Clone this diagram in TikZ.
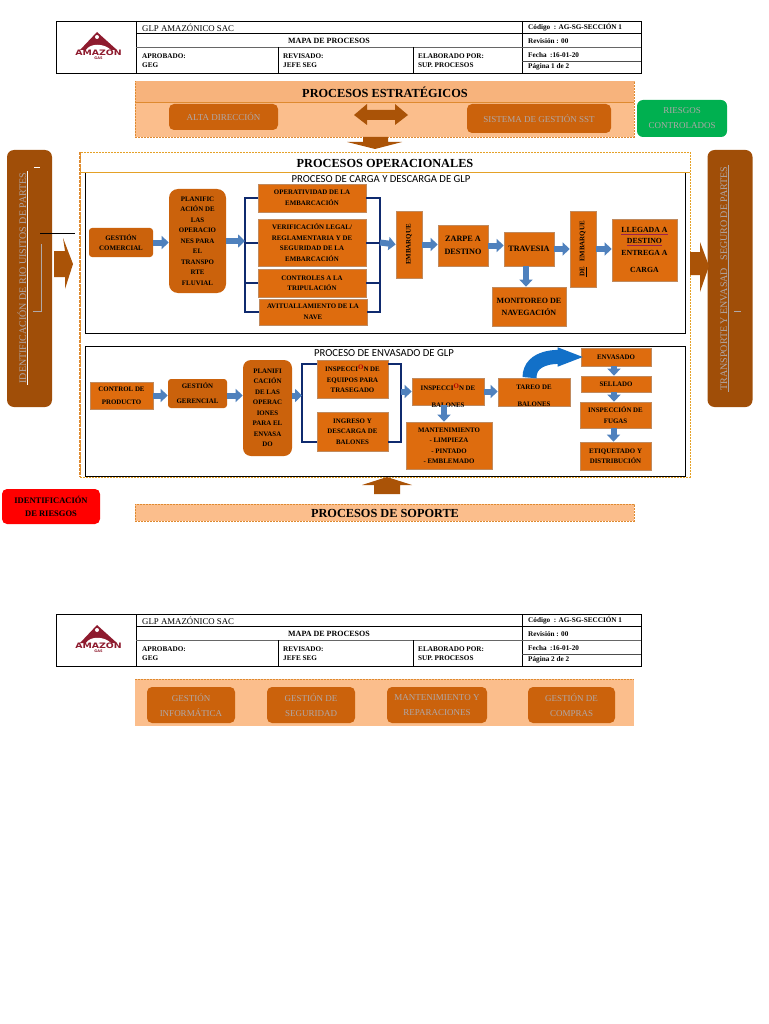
\documentclass[tikz,border=0pt]{standalone}
\usepackage{fontspec}
\setmainfont{Liberation Serif}
\newfontfamily\calfont{Carlito}
\newfontfamily\logofont{DejaVu Sans}
\usetikzlibrary{positioning, arrows.meta}

\definecolor{boxorange}{HTML}{DE6C0E}
\definecolor{roundorange}{HTML}{CB620C}
\definecolor{boxedge}{HTML}{C08A5E}
\definecolor{barbrown}{HTML}{A04E08}
\definecolor{panelband}{HTML}{F7B37C}
\definecolor{panelfill}{HTML}{FBBE8C}
\definecolor{paneledge}{HTML}{DE8A30}
\definecolor{flowblue}{HTML}{4F81BD}
\definecolor{curveblue}{HTML}{1270C8}
\definecolor{navybar}{HTML}{0F2A6E}
\definecolor{paletext}{HTML}{B0A8A8}
\definecolor{logored}{HTML}{8E1B2E}
\definecolor{squigred}{HTML}{9A2050}

\newcommand{\redO}{\raisebox{2pt}{\color{red!70!black}O}}
\newcommand{\squig}[1]{{\color{squigred}$\underline{\hbox{\color{black}#1}}$}}

\begin{document}
\begin{tikzpicture}[
    x=1pt, y=-1pt,
    %% Boxes with the process names
    procbox/.style={
        rectangle,
        draw=boxedge,
        line width=0.7pt,
        fill=boxorange,
        align=center,
        inner sep=0pt,
        font=\fontsize{6.9}{10.5}\selectfont\bfseries
    },
    roundbox/.style={
        procbox,
        draw=none,
        fill=roundorange,
        rounded corners=7pt
    },
    palebox/.style={
        rectangle,
        rounded corners=5pt,
        fill=roundorange,
        text=paletext,
        align=center,
        inner sep=0pt,
        font=\fontsize{9}{15}\selectfont
    },
    sidebar/.style={
        rectangle,
        rounded corners=7pt,
        fill=barbrown,
        rotate=90,
        minimum width=257pt,
        minimum height=45pt
    },
    sidetext/.style={
        rotate=90,
        text=paletext,
        inner sep=1pt,
        font=\fontsize{10}{12}\selectfont
    },
    panel/.style={
        rectangle,
        draw=paneledge,
        dashed,
        dash pattern=on 2pt off 1pt,
        line width=0.8pt,
        fill=panelfill,
        inner sep=0pt
    },
    frame/.style={
        rectangle,
        draw=black,
        line width=0.8pt,
        fill=white,
        inner sep=0pt
    },
    title/.style={
        inner sep=0pt,
        font=\fontsize{12.3}{14}\selectfont\bfseries
    },
    subtitle/.style={
        inner sep=0pt,
        font=\calfont\fontsize{10.7}{13}\selectfont
    },
    cell/.style={
        inner sep=0pt,
        anchor=west,
        align=left,
        font=\fontsize{7.2}{9.5}\selectfont\bfseries
    },
    flow/.style={
        draw=flowblue,
        line width=6pt,
        -{Triangle[length=7pt,width=13pt]}
    },
    bracket/.style={
        draw=navybar,
        line width=2pt
    },
    brownarrow/.style={
        fill=barbrown!90!orange
    }
]

%% Header of both pages
\foreach \yo/\pg in {0/1, 593/2}{
\begin{scope}[yshift=-\yo pt]
    \draw[line width=0.9pt] (56,21) rectangle (641,73);
    \draw[line width=0.9pt] (136,21) -- (136,73);
    \draw[line width=0.9pt] (522,21) -- (522,73);
    \draw[line width=0.9pt] (136,33) -- (641,33);
    \draw[line width=0.9pt, black!60] (136,47) -- (641,47);
    \draw[line width=0.9pt, black!70] (522,61) -- (641,61);
    \draw[line width=0.9pt] (278,47) -- (278,73);
    \draw[line width=0.9pt] (413,47) -- (413,73);
    %% Logo
    \fill[logored] (97,32) -- (117,50) -- (80,50) -- cycle;
    \fill[white] (86,50) .. controls (90,43) and (104,43) .. (111,50) -- cycle;
    \fill[white] (97,37) circle (2pt);
    \node[inner sep=0pt, text=logored, font=\logofont\fontsize{7.5}{8}\selectfont\bfseries] (logo\pg) at (98.5,53) {\scalebox{1.25}[1]{AMAZON}};
    \node[inner sep=0pt, text=logored, font=\logofont\fontsize{3.5}{4}\selectfont\bfseries] (gas\pg) at (98.5,58.5) {GAS};
    %% Texts
    \node[cell, font=\fontsize{8.8}{12}\selectfont] (firm\pg) at (142,27.5) {GLP AMAZÓNICO SAC};
    \node[cell, anchor=center, font=\fontsize{8}{10}\selectfont\bfseries] (map\pg) at (329,40.5) {MAPA DE PROCESOS};
    \node[cell] (apr\pg) at (142,60.5) {APROBADO:\\GEG};
    \node[cell] (rev\pg) at (283,60.5) {REVISADO:\\JEFE SEG};
    \node[cell] (ela\pg) at (418,60.5) {ELABORADO POR:\\SUP. PROCESOS};
    \node[cell] (cod\pg) at (528,27.5) {Código\ \ : AG-SG-SECCIÓN 1};
    \node[cell] (rvs\pg) at (528,41) {Revisión : 00};
    \node[cell] (fec\pg) at (528,55) {Fecha\ \ :16-01-20};
    \node[cell] (pag\pg) at (528,67) {Página \pg\ de 2};
\end{scope}
}

%% Strategic processes
\node[panel, minimum width=499pt, minimum height=56pt] (strategic) at (384.5,109) {};
\fill[panelband] (135.5,81.5) rectangle (633.5,102);
\draw[paneledge, line width=0.8pt] (135,102) -- (634,102);
\node[title] (strategic_title) at (385,92) {PROCESOS ESTRATÉGICOS};
\node[palebox, minimum width=109pt, minimum height=26pt] (alta) at (223.5,117) {ALTA DIRECCIÓN};
\node[palebox, minimum width=144pt, minimum height=29pt] (sistema) at (539,118.5) {SISTEMA DE GESTIÓN SST};
\node[palebox, fill={rgb,255:red,0;green,176;blue,80}, minimum width=90pt, minimum height=37pt, rounded corners=6pt] (riesgos) at (682,118.5) {RIESGOS\\CONTROLADOS};
\fill[brownarrow] (354,115) -- (367,104) -- (367,110) -- (395,110) -- (395,104) -- (408,115) -- (395,125) -- (395,120) -- (367,120) -- (367,125) -- cycle;
\fill[brownarrow] (363,137) -- (388,137) -- (388,142) -- (402,142) -- (375,149) -- (347,142) -- (363,142) -- cycle;

%% Operational processes
\node[panel, fill=white, draw=paneledge!80!yellow, minimum width=610pt, minimum height=325pt] (operational) at (385,314.5) {};
\draw[paneledge, dashed, dash pattern=on 3pt off 1pt, line width=1.6pt] (80,152) -- (80,477);
\node[title] (operational_title) at (385,163) {PROCESOS OPERACIONALES};
\node[frame, minimum width=600pt, minimum height=161pt] (carga) at (385,252.5) {};
\node[frame, minimum width=600pt, minimum height=130pt] (envasado) at (385,411) {};
\draw[paneledge!80!yellow, line width=0.8pt] (80,172) -- (690,172);
\node[subtitle] (carga_title) at (381,179.5) {PROCESO DE CARGA Y DESCARGA DE GLP};
\node[subtitle] (envasado_title) at (384,353) {PROCESO DE ENVASADO DE GLP};

%% Side bars
\node[sidebar] (leftbar) at (29.5,278.5) {};
\node[sidebar] (rightbar) at (730,278.5) {};
\node[sidetext] (lefttext) at (22,278) {IDENTIFICACIÓN DE RIO UISITOS DE PARTES};
\node[sidetext] (righttext) at (724,278.5) {TRANSPORTE Y ENVASAD\ \ \ SEGURO DE PARTES};
\draw[white, line width=1.2pt] (lefttext.south west) -- (lefttext.south east);
\draw[paletext, line width=1.2pt] (righttext.south west) -- (righttext.south east);
\draw[white, line width=1pt] (34,168) -- (40,168);
\draw[paletext, line width=1pt] (734,311) -- (741,311);
\draw[black, line width=0.8pt] (40,233) -- (75,233);
\draw[paletext, line width=0.8pt] (41,244) -- (41,311) -- (33,311);
\fill[brownarrow] (54,251) -- (65,251) -- (63,238) -- (73,264) -- (65,289) -- (65,277) -- (54,277) -- cycle;
\fill[brownarrow] (690,252) -- (700,252) -- (700,242) -- (709,266) -- (700,292) -- (700,275) -- (690,275) -- cycle;

%% Top Row Nodes
\node[roundbox, rounded corners=3pt, minimum width=64pt, minimum height=29pt] (comercial) at (121,242.5) {GESTIÓN\\COMERCIAL};
\node[roundbox, rounded corners=9pt, minimum width=57pt, minimum height=104pt] (plan_top) at (197.5,241) {PLANIFIC\\ACIÓN DE\\LAS\\OPERACIO\\NES PARA\\EL\\TRANSPO\\RTE\\FLUVIAL};
\node[procbox, minimum width=108pt, minimum height=28pt] (operat) at (312,198) {OPERATIVIDAD DE LA\\EMBARCACIÓN};
\node[procbox, minimum width=108pt, minimum height=47pt] (verif) at (312,242.5) {VERIFICACIÓN LEGAL/\\REGLAMENTARIA Y DE\\SEGURIDAD DE LA\\EMBARCACIÓN};
\node[procbox, minimum width=108pt, minimum height=28pt] (control) at (312,283) {CONTROLES A LA\\TRIPULACIÓN};
\node[procbox, minimum width=108pt, minimum height=26pt] (avit) at (313,312) {AVITUALLAMIENTO DE LA\\NAVE};
\node[procbox, rotate=90, minimum width=67pt, minimum height=26pt] (emb_a) at (409,244.5) {EMBARQUE};
\node[procbox, minimum width=50pt, minimum height=41pt, font=\fontsize{8.2}{12.5}\selectfont\bfseries] (zarpe) at (463,245.5) {ZARPE A\\DESTINO};
\node[procbox, minimum width=50pt, minimum height=34pt, font=\fontsize{8.2}{12.5}\selectfont\bfseries] (travesia) at (529,249) {TRAVESIA};
\node[procbox, rotate=90, minimum width=76pt, minimum height=26pt] (emb_b) at (583,249) {\underline{DE}\ \ \ EMBARQUE};
\node[procbox, minimum width=65pt, minimum height=62pt, font=\fontsize{7.8}{11}\selectfont\bfseries] (llegada) at (644.5,250) {\squig{LLEGADA A}\\[0.5pt]\squig{DESTINO}\\[1pt]ENTREGA A\\[6pt]CARGA};
\node[procbox, minimum width=74pt, minimum height=39pt, font=\fontsize{8}{12}\selectfont\bfseries] (monitoreo) at (529,306.5) {MONITOREO DE\\NAVEGACIÓN};

%% Top Row Connections
\coordinate (bracket_a) at (245,260);
\coordinate (bracket_b) at (380,260);
\draw[bracket] (operat.west) -| (bracket_a) |- (avit.west);
\draw[bracket] (verif.west) -- (verif.west -| bracket_a);
\draw[bracket] (control.west) -- (control.west -| bracket_a);
\draw[bracket] (operat.east) -| (bracket_b) |- (avit.east);
\draw[bracket] (verif.east) -- (verif.east -| bracket_b);
\draw[bracket] (control.east) -- (control.east -| bracket_b);
\draw[flow] (comercial.east) -- (comercial.east -| plan_top.west);
\draw[flow] (plan_top.east) -- (plan_top.east -| bracket_a);
\draw[flow] (verif.east -| bracket_b) -- (emb_a.north);
\draw[flow] (emb_a.south) -- (emb_a.south -| zarpe.west);
\draw[flow] (zarpe.east) -- (zarpe.east -| travesia.west);
\draw[flow] (travesia.east) -- (travesia.east -| emb_b.north);
\draw[flow] (travesia.east -| emb_b.south) -- (travesia.east -| llegada.west);
\draw[flow] ([xshift=-3pt]travesia.south) -- ([xshift=-3pt]monitoreo.north);

%% Bottom Row Nodes
\node[procbox, minimum width=63pt, minimum height=27pt, font=\fontsize{6.9}{13}\selectfont\bfseries] (producto) at (121.5,395.5) {CONTROL DE\\PRODUCTO};
\node[roundbox, rounded corners=3pt, minimum width=59pt, minimum height=29pt, font=\fontsize{6.9}{15}\selectfont\bfseries] (gerencial) at (197.5,393.5) {GESTIÓN\\GERENCIAL};
\node[roundbox, rounded corners=8pt, minimum width=49pt, minimum height=96pt] (plan_bot) at (267.5,408) {PLANIFI\\CACIÓN\\DE LAS\\OPERAC\\IONES\\PARA EL\\ENVASA\\DO};
\node[procbox, minimum width=71pt, minimum height=38pt] (equipos) at (352.5,379) {INSPECCI\redO N DE\\EQUIPOS PARA\\TRASEGADO};
\node[procbox, minimum width=71pt, minimum height=39pt] (ingreso) at (352.5,431.5) {INGRESO Y\\DESCARGA DE\\BALONES};
\node[procbox, minimum width=72pt, minimum height=27pt] (balones) at (448,391.5) {};
\node[inner sep=0pt, align=center, font=\fontsize{6.9}{17}\selectfont\bfseries] (balones_text) at (448,396) {INSPECCI\redO N DE\\BALONES};
\node[procbox, minimum width=72pt, minimum height=28pt] (tareo) at (534,392) {};
\node[inner sep=0pt, align=center, font=\fontsize{6.9}{17}\selectfont\bfseries] (tareo_text) at (534,396) {TAREO DE\\BALONES};
\node[procbox, minimum width=86pt, minimum height=47pt] (mante) at (449,445.5) {MANTENIMIENTO\\- LIMPIEZA\\- PINTADO\\- EMBLEMADO};
\node[procbox, minimum width=70pt, minimum height=18pt] (envas) at (616,357) {ENVASADO};
\node[procbox, minimum width=70pt, minimum height=16pt] (sellado) at (616,384) {SELLADO};
\node[procbox, minimum width=71pt, minimum height=26pt] (fugas) at (615.5,415) {INSPECCIÓN DE\\FUGAS};
\node[procbox, minimum width=71pt, minimum height=28pt] (etiq) at (615.5,456) {ETIQUETADO Y\\DISTRIBUCIÓN};

%% Bottom Row Connections
\coordinate (bracket_c) at (302,400);
\coordinate (bracket_d) at (401,400);
\draw[bracket] (equipos.west |- 0,364) -| (bracket_c) |- (ingreso.west |- 0,442);
\draw[bracket] (equipos.east |- 0,364) -| (bracket_d) |- (ingreso.east |- 0,442);
\draw[flow] (producto.east) -- (producto.east -| gerencial.west);
\draw[flow] (gerencial.east |- producto.east) -- (producto.east -| plan_bot.west);
\draw[flow] (plan_bot.east |- producto.east) -- (producto.east -| bracket_c);
\draw[flow] (balones.west -| bracket_d) -- (balones.west);
\draw[flow] (balones.east) -- (balones.east -| tareo.west);
\draw[flow] ([xshift=-4pt]balones.south) -- ([xshift=-4pt]balones.south |- mante.north);
\draw[flow] ([xshift=-2pt]envas.south) -- ([xshift=-2pt]sellado.north);
\draw[flow] ([xshift=-2pt]sellado.south) -- ([xshift=-2pt]sellado.south |- fugas.north);
\draw[flow] ([xshift=-2pt]fugas.south) -- ([xshift=-2pt]etiq.north);
\draw[draw=curveblue, line width=14pt, -{Triangle[length=27pt,width=17pt]}] ([xshift=-4.5pt]tareo.north) to[out=90, in=180] ([xshift=4pt]envas.west);

%% Support processes
\fill[brownarrow] (374,494) -- (374,485) -- (362,485) -- (387,477) -- (412,485) -- (400,485) -- (400,494) -- cycle;
\node[panel, minimum width=499pt, minimum height=17pt] (soporte) at (384.5,512.5) {};
\node[title] (soporte_title) at (385,513) {PROCESOS DE SOPORTE};
\node[rectangle, rounded corners=5pt, fill=red, align=center, inner sep=0pt, minimum width=98pt, minimum height=35pt, font=\fontsize{8.5}{13}\selectfont\bfseries] (identif) at (51,506.5) {IDENTIFICACIÓN\\DE RIESGOS};

%% Second page
\node[panel, draw=none, minimum width=499pt, minimum height=47pt] (soporte_two) at (384.5,702.5) {};
\draw[paneledge, dashed, dash pattern=on 2pt off 1pt, line width=0.8pt] (135,679) -- (634,679);
\node[palebox, minimum width=88pt, minimum height=36pt] (informatica) at (191,705) {GESTIÓN\\INFORMÁTICA};
\node[palebox, minimum width=88pt, minimum height=36pt] (seguridad) at (311,705) {GESTIÓN DE\\SEGURIDAD};
\node[palebox, minimum width=100pt, minimum height=36pt] (manten) at (437,705) {MANTENIMIENTO Y\\REPARACIONES};
\node[palebox, minimum width=87pt, minimum height=36pt] (compras) at (571.5,705) {GESTIÓN DE\\COMPRAS};

\useasboundingbox (0,0) rectangle (768,1024);
\end{tikzpicture}
\end{document}
